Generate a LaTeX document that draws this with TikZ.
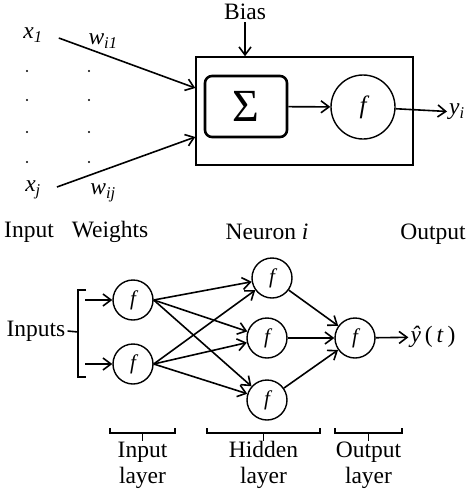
\documentclass[tikz,border=0pt]{standalone}
\usepackage{fontspec}
\setmainfont{Liberation Serif}
\usepackage{tikz}
\usetikzlibrary{arrows.meta,calc,positioning}
\newcommand{\nnfont}{\fontsize{23.5}{26}\selectfont}
\tikzset{%
  nnlabel/.style={%
    inner sep=2pt,
    font=\nnfont
  },
  nnbody/.style={%
    draw,
    line width=1.5pt,
    minimum width=217pt,
    minimum height=108pt
  },
  nnsum/.style={%
    draw,
    line width=2.6pt,
    rounded corners=7pt,
    minimum width=82pt,
    minimum height=61pt,
    font=\fontsize{46}{46}\selectfont
  },
  nnneuron/.style={%
    circle,
    draw,
    line width=1.4pt,
    minimum size=40pt,
    inner sep=0pt,
    font=\fontsize{21}{21}\selectfont\itshape
  },
  nnarrow/.style={-{Straight Barb[length=8pt,width=12pt]},line width=1.6pt},
  nnline/.style={line width=1.6pt}
}

\begin{document}
\begin{tikzpicture}[x=1pt,y=-1pt]
    \useasboundingbox (0,0) rectangle (474,493);

    % single neuron
    \node[nnlabel] (bias) at (245,12) {Bias};
    \node[nnbody] (body) at (304.5,111) {};
    \node[nnsum] (sum) at (246,106.5) {Σ};
    \node[nnneuron,minimum size=64pt,font=\fontsize{25}{25}\selectfont\itshape] (act) at (363,107) {f};
    \node[nnlabel] (yi) at (457,112) {\textit{y}\textsubscript{\textit{i}}};

    \node[nnlabel] (x1) at (33,35) {\textit{x}\textsubscript{\textit{1}}};
    \node[nnlabel] (w1) at (103,41) {\textit{w}\textsubscript{\textit{i1}}};
    \node[nnlabel] (xj) at (33,190) {\textit{x}\textsubscript{\textit{j}}};
    \node[nnlabel] (wj) at (103,193) {\textit{w}\textsubscript{\textit{ij}}};
    \foreach \y in {71,100,132,162} {
      \fill (27,\y) circle (1.1pt);
      \fill (89,\y) circle (1.1pt);
    }

    \coordinate (x1out) at ($(x1.east)+(14,3)$);
    \coordinate (xjout) at ($(xj.east)+(14,-3)$);
    \draw[nnarrow] (x1out) -- ([yshift=23pt]body.west);
    \draw[nnarrow] (xjout) -- ([yshift=-26pt]body.west);
    \draw[nnarrow] (bias) -- (bias |- body.north);
    \draw[nnarrow] (sum) -- (act);
    \draw[nnarrow] (act) -- (yi);

    \node[nnlabel] (capin) at (29,232) {Input};
    \node[nnlabel] (capw) at (110,232) {Weights};
    \node[nnlabel] (capn) at (267,232) {Neuron \textit{i}};
    \node[nnlabel] (capout) at (433,234) {Output};

    % network
    \node[nnneuron] (i1) at (133,300) {f};
    \node[nnneuron] (i2) at (133,364) {f};
    \node[nnneuron] (h1) at (272,278) {f};
    \node[nnneuron] (h2) at (267,338) {f};
    \node[nnneuron] (h3) at (267,400) {f};
    \node[nnneuron] (out) at (355,338) {f};
    \node[nnlabel] (yhat) at (433,337) {\textit{ŷ}\,(\,\textit{t}\,)};
    \node[nnlabel] (inputs) at (36,331) {Inputs};

    \coordinate (bk) at (78,332);
    \draw[nnline] (inputs.east) -- (bk);
    \draw[nnline] (86,290) -- (78,290) -- (78,377) -- (86,377);
    \coordinate (src1) at ($(i1.west)+(-27,0)$);
    \coordinate (src2) at ($(i2.west)+(-27,0)$);
    \draw[nnarrow] (src1) -- (i1);
    \draw[nnarrow] (src2) -- (i2);
    \foreach \a in {i1,i2}
      \foreach \b in {h1,h2,h3}
        \draw[nnarrow] (\a.east) -- (\b);
    \foreach \b in {h1,h2,h3}
      \draw[nnarrow] (\b) -- (out);
    \draw[nnarrow] (out) -- (yhat);

    \foreach \l/\r/\name in {110/175/Input,207/320/Hidden,335/402/Output} {
      \draw[nnline] (\l,428) -- (\l,433) -- (\r,433) -- (\r,428);
      \draw[nnline] ({(\l+\r)/2},433) -- ({(\l+\r)/2},441);
      \node[nnlabel,align=center] (lbl\name) at ({(\l+\r)/2},465) {\name\\layer};
    }
  \end{tikzpicture}
\end{document}
